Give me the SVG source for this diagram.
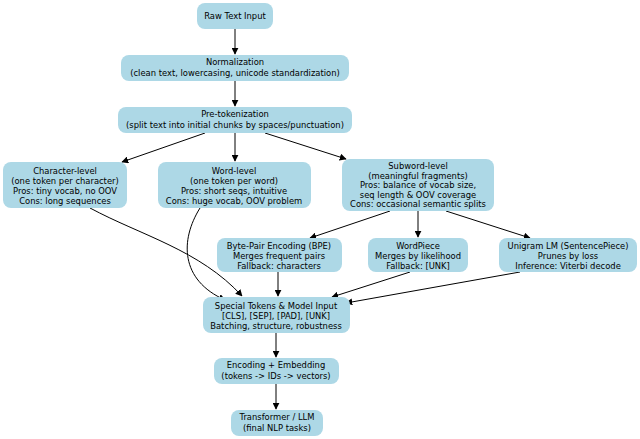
<svg xmlns="http://www.w3.org/2000/svg" width="640" height="439" viewBox="0 0 640 439">
<style>
.n rect{fill:#add8e6;stroke:none}
text{font-family:"DejaVu Sans",sans-serif;font-size:8.4px;fill:#000;text-anchor:middle}
.e path{fill:none;stroke:#000;stroke-width:1;marker-end:url(#a)}
</style>
<defs><marker id="a" viewBox="0 0 10 10" refX="9" refY="5" markerWidth="7" markerHeight="7" orient="auto" markerUnits="userSpaceOnUse"><path d="M0,0L10,5L0,10z" fill="#000"/></marker></defs>
<rect width="640" height="439" fill="#fff"/>
<g class="e">
<path d="M235,29V54"/>
<path d="M235,81V106"/>
<path d="M205,133L122,162"/>
<path d="M235,133V161"/>
<path d="M265,133L346,159"/>
<path d="M390,211L310,238"/>
<path d="M418,211V237"/>
<path d="M446,211L530,238"/>
<path d="M90,208C140,235 200,250 242,296"/>
<path d="M200,208C180,240 180,280 225,300"/>
<path d="M278,272V296"/>
<path d="M410,272L332,297"/>
<path d="M520,272L346,303"/>
<path d="M276,333V357"/>
<path d="M276,384V409"/>
</g>
<g id="n1" class="n"><rect x="197" y="3" width="76" height="26" rx="8"/><text x="235" y="19">Raw Text Input</text></g>
<g id="n2" class="n"><rect x="121" y="55" width="228" height="26" rx="8"/><text x="235" y="65">Normalization</text><text x="235" y="76">(clean text, lowercasing, unicode standardization)</text></g>
<g id="n3" class="n"><rect x="118" y="107" width="234" height="26" rx="8"/><text x="235" y="117">Pre-tokenization</text><text x="235" y="128">(split text into initial chunks by spaces/punctuation)</text></g>
<g id="n4" class="n"><rect x="3" y="162" width="124" height="46" rx="8"/><text x="65" y="174">Character-level</text><text x="65" y="184">(one token per character)</text><text x="65" y="194">Pros: tiny vocab, no OOV</text><text x="65" y="204">Cons: long sequences</text></g>
<g id="n5" class="n"><rect x="158" y="162" width="153" height="46" rx="8"/><text x="234" y="174">Word-level</text><text x="234" y="184">(one token per word)</text><text x="234" y="194">Pros: short seqs, intuitive</text><text x="234" y="204">Cons: huge vocab, OOV problem</text></g>
<g id="n6" class="n"><rect x="342" y="159" width="152" height="52" rx="8"/><text x="418" y="169">Subword-level</text><text x="418" y="178.5">(meaningful fragments)</text><text x="418" y="188">Pros: balance of vocab size,</text><text x="418" y="197.5">seq length &amp; OOV coverage</text><text x="418" y="207">Cons: occasional semantic splits</text></g>
<g id="n7" class="n"><rect x="217" y="238" width="125" height="34" rx="8"/><text x="279" y="249">Byte-Pair Encoding (BPE)</text><text x="279" y="259">Merges frequent pairs</text><text x="279" y="269">Fallback: characters</text></g>
<g id="n8" class="n"><rect x="368" y="238" width="100" height="34" rx="8"/><text x="418" y="249">WordPiece</text><text x="418" y="259">Merges by likelihood</text><text x="418" y="269">Fallback: [UNK]</text></g>
<g id="n9" class="n"><rect x="499" y="238" width="138" height="34" rx="8"/><text x="568" y="249">Unigram LM (SentencePiece)</text><text x="568" y="259">Prunes by loss</text><text x="568" y="269">Inference: Viterbi decode</text></g>
<g id="n10" class="n"><rect x="203" y="297" width="147" height="36" rx="8"/><text x="276" y="309">Special Tokens &amp; Model Input</text><text x="276" y="319">[CLS], [SEP], [PAD], [UNK]</text><text x="276" y="329">Batching, structure, robustness</text></g>
<g id="n11" class="n"><rect x="214" y="358" width="125" height="26" rx="8"/><text x="276" y="368">Encoding + Embedding</text><text x="276" y="379">(tokens -&gt; IDs -&gt; vectors)</text></g>
<g id="n12" class="n"><rect x="231" y="410" width="92" height="26" rx="8"/><text x="277" y="420">Transformer / LLM</text><text x="277" y="431">(final NLP tasks)</text></g>
</svg>
